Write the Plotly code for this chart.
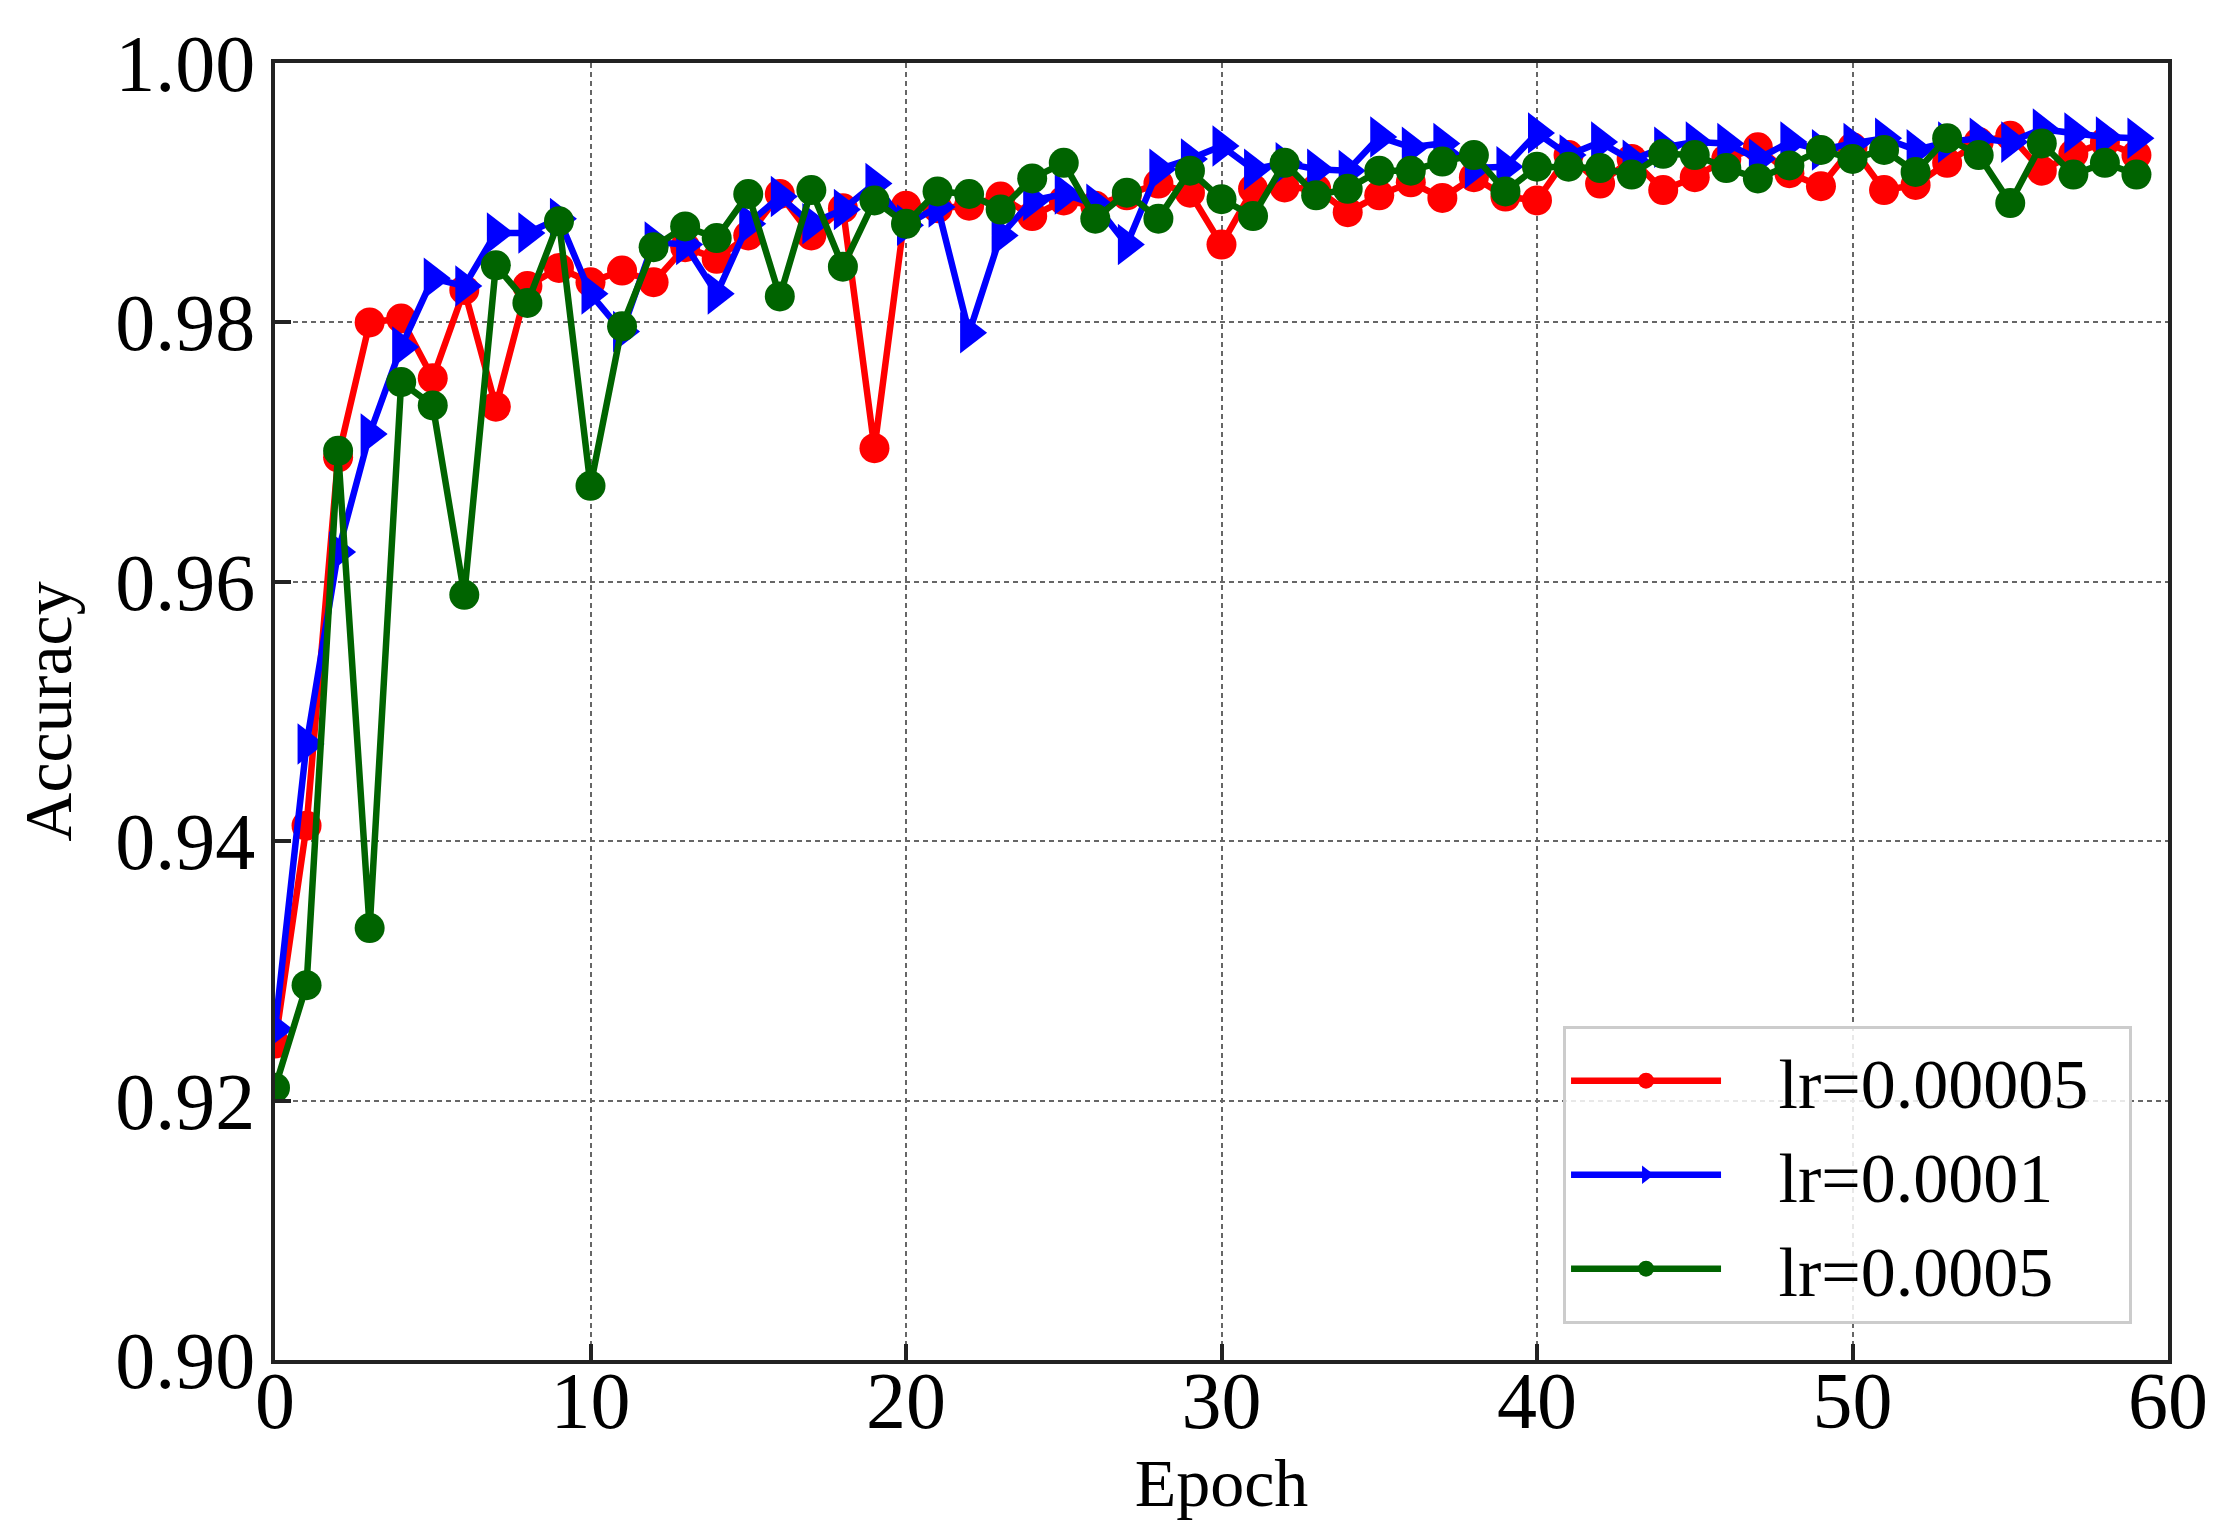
import plotly.graph_objects as go

# accuracy per epoch for the three learning rates
epochs = list(range(60))

acc_lr_5e5 = [0.9244, 0.9412, 0.9696, 0.9800, 0.9803, 0.9757, 0.9825, 0.9735, 0.9828, 0.9842,
              0.9831, 0.9840, 0.9831, 0.9858, 0.9849, 0.9867, 0.9899, 0.9867, 0.9888, 0.9703,
              0.9890, 0.9888, 0.9890, 0.9897, 0.9882, 0.9894, 0.9890, 0.9898, 0.9907, 0.9900,
              0.9860, 0.9903, 0.9904, 0.9903, 0.9885, 0.9898, 0.9908, 0.9896, 0.9912, 0.9897,
              0.9894, 0.9929, 0.9907, 0.9926, 0.9902, 0.9912, 0.9926, 0.9935, 0.9915, 0.9905,
              0.9935, 0.9902, 0.9906, 0.9923, 0.9939, 0.9944, 0.9917, 0.9930, 0.9939, 0.9929]

acc_lr_1e4 = [0.9255, 0.9475, 0.9623, 0.9714, 0.9781, 0.9834, 0.9828, 0.9869, 0.9869, 0.9880,
              0.9822, 0.9793, 0.9862, 0.9860, 0.9822, 0.9876, 0.9897, 0.9876, 0.9887, 0.9907,
              0.9875, 0.9889, 0.9792, 0.9867, 0.9894, 0.9899, 0.9891, 0.9860, 0.9918, 0.9926,
              0.9936, 0.9918, 0.9923, 0.9918, 0.9917, 0.9943, 0.9935, 0.9938, 0.9919, 0.9920,
              0.9946, 0.9929, 0.9939, 0.9925, 0.9935, 0.9939, 0.9938, 0.9926, 0.9939, 0.9933,
              0.9938, 0.9942, 0.9933, 0.9939, 0.9942, 0.9939, 0.9949, 0.9946, 0.9943, 0.9942]

acc_lr_5e4 = [0.9210, 0.9289, 0.9701, 0.9333, 0.9754, 0.9736, 0.9590, 0.9844, 0.9815, 0.9878,
              0.9674, 0.9797, 0.9858, 0.9874, 0.9865, 0.9899, 0.9820, 0.9902, 0.9843, 0.9894,
              0.9876, 0.9901, 0.9899, 0.9887, 0.9911, 0.9923, 0.9880, 0.9900, 0.9880, 0.9917,
              0.9895, 0.9882, 0.9923, 0.9898, 0.9903, 0.9917, 0.9917, 0.9924, 0.9929, 0.9901,
              0.9920, 0.9920, 0.9919, 0.9914, 0.9930, 0.9929, 0.9919, 0.9911, 0.9921, 0.9933,
              0.9926, 0.9933, 0.9916, 0.9942, 0.9929, 0.9892, 0.9938, 0.9914, 0.9923, 0.9914]

names = ["lr=0.00005", "lr=0.0001", "lr=0.0005"]
colors = ["#ff0000", "#0000ff", "#006400"]
symbols = ["circle", "triangle-right", "circle"]
msizes = [30, 36, 30]

FONT = "Liberation Serif, Times New Roman, serif"
GAP = "\u00a0\u00a0\u00a0"  # push legend text away from the sample line
PAD = "\u00a0\u00a0"        # right padding inside legend box

fig = go.Figure()
for name, ys, c, sym, ms in zip(names, [acc_lr_5e5, acc_lr_1e4, acc_lr_5e4], colors, symbols, msizes):
    fig.add_trace(go.Scatter(x=epochs, y=ys, name=GAP + name + PAD, mode="lines+markers",
                             line=dict(color=c, width=6.5),
                             marker=dict(color=c, symbol=sym, size=ms, line=dict(width=0))))

axis_common = dict(showline=True, linecolor="#222222", linewidth=3.5, mirror=True,
                   ticks="inside", ticklen=16, tickwidth=3.5, tickcolor="#222222",
                   showgrid=True, gridcolor="#666666", gridwidth=2, griddash="5px,4px",
                   zeroline=False, tickfont=dict(size=80, color="black", family=FONT))

fig.update_xaxes(range=[0, 60], dtick=10, ticklabelstandoff=-32,
                 title=dict(text="Epoch", font=dict(size=68, color="black", family=FONT), standoff=4),
                 **axis_common)
fig.update_yaxes(range=[0.90, 1.00], dtick=0.02, tickformat=".2f",
                 title=dict(text="Accuracy", font=dict(size=68, color="black", family=FONT), standoff=22),
                 **axis_common)

fig.update_layout(width=2214, height=1538,
                  margin=dict(l=267, r=54, t=55, b=186),
                  plot_bgcolor="white", paper_bgcolor="white",
                  font=dict(family=FONT, color="black"),
                  legend=dict(x=0.981, y=0.028, xanchor="right", yanchor="bottom",
                              bgcolor="rgba(255,255,255,0.85)", bordercolor="#cccccc", borderwidth=3,
                              font=dict(size=70, family=FONT, color="black"),
                              itemwidth=150))

fig.write_html("out.html")
